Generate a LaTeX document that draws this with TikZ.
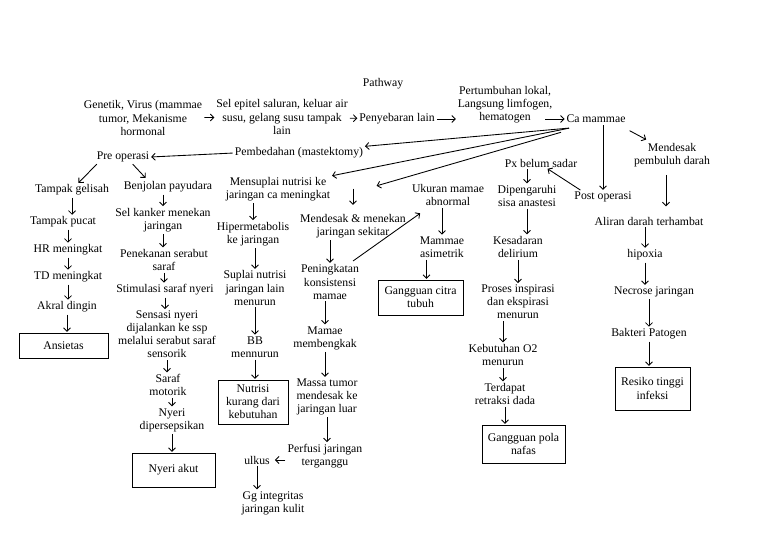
\documentclass[tikz,border=0pt]{standalone}
\usepackage{fontspec}
\setmainfont{Liberation Serif}
\usetikzlibrary{calc,arrows.meta}

\tikzset{
  txt/.style={inner sep=0.75pt, align=center, font=\fontsize{8.8}{9.8}\selectfont},
  boxnode/.style={txt, draw, line width=0.7pt},
  arr/.style={-{Straight Barb[length=2.6pt,width=5.2pt]}, line width=0.65pt, shorten >=0.5pt, shorten <=0.75pt}
}

\begin{document}
\begin{tikzpicture}[x=0.75pt,y=0.75pt,yscale=-1,xscale=1]
\useasboundingbox (0,0) rectangle (768,543);

% Text Node
\draw (383,84) node (title) [txt] {Pathway};

% top row
\draw (143,118) node (gen) [txt] {Genetik, Virus (mammae\\tumor, Mekanisme\\hormonal};
\draw (282,117) node (sel) [txt] {Sel epitel saluran, keluar air\\susu, gelang susu tampak\\lain};
\draw (397,119) node (peny) [txt] {Penyebaran lain};
\draw (505,105) node (pert) [txt] {Pertumbuhan lokal,\\Langsung limfogen,\\hematogen};
\draw (596,119) node (ca) [txt] {Ca mammae};
\coordinate (cafoot) at (570,128);
\coordinate (cafoot2) at (562,132);

% Text Node
\draw (299,153) node (pemb) [txt] {Pembedahan (mastektomy)};
\draw (123,157) node (pre) [txt] {Pre operasi};
\draw (672,155) node (pembuluh) [txt] {Mendesak\\pembuluh darah};
\draw (603,197) node (post) [txt] {Post operasi};
\draw (541,163) node (px) [txt] {Px belum sadar};

% pre operasi, left column
\draw (72,190) node (gel) [txt] {Tampak gelisah};
\draw (63,222) node (puc) [txt] {Tampak pucat};
\draw (68,250) node (hr) [txt] {HR meningkat};
\draw (68,277) node (td) [txt] {TD meningkat};
\draw (67,307) node (akral) [txt] {Akral dingin};
\draw (63.5,345.5) node (ansietas) [boxnode, minimum width=66.75pt, minimum height=18.75pt] {Ansietas};

% pre operasi, nyeri column
\draw (168,187) node (benj) [txt] {Benjolan payudara};
\draw (163,220) node (kanker) [txt] {Sel kanker menekan\\jaringan};
\draw (164,260) node (tekan) [txt] {Penekanan serabut\\saraf};
\draw (165,290) node (stim) [txt] {Stimulasi saraf nyeri};
\draw (167,334.5) node (sens) [txt] {Sensasi nyeri\\dijalankan ke ssp\\melalui serabut saraf\\sensorik};
\draw (168,385) node (motor) [txt] {Saraf\\motorik};
\draw (172,420) node (dipers) [txt] {Nyeri\\dipersepsikan};
\draw (173.5,470) node (akut) [boxnode, minimum width=62.25pt, minimum height=25.5pt] {Nyeri akut};

% nutrisi column
\draw (278,189) node (mens) [txt] {Mensuplai nutrisi ke\\jaringan ca meningkat};
\draw (253,234) node (hiper) [txt] {Hipermetabolis\\ke jaringan};
\draw (255,288) node (suplai) [txt] {Suplai nutrisi\\jaringan lain\\menurun};
\draw (255,347) node (bb) [txt] {BB\\mennurun};
\draw (253,402) node (nutrisi) [boxnode, minimum width=52.5pt, minimum height=33pt] {Nutrisi\\kurang dari\\kebutuhan};

% mendesak column
\coordinate (desakin) at (376,186);
\draw (353,226) node (desak) [txt] {Mendesak \& menekan\\jaringan sekitar};
\draw (330,282) node (ening) [txt] {Peningkatan\\konsistensi\\mamae};
\draw (325,338) node (bengkak) [txt] {Mamae\\membengkak};
\draw (327,397) node (massa) [txt] {Massa tumor\\mendesak ke\\jaringan luar};
\draw (325,456) node (perfusi) [txt] {Perfusi jaringan\\terganggu};
\draw (257,460) node (ulkus) [txt] {ulkus};
\draw (273,503) node (gg) [txt] {Gg integritas\\jaringan kulit};

% citra tubuh column
\draw (448,195) node (ukuran) [txt] {Ukuran mamae\\abnormal};
\draw (442,247) node (asim) [txt] {Mammae\\asimetrik};
\draw (420.5,297.5) node (citra) [boxnode, minimum width=63.75pt, minimum height=26.25pt] {Gangguan citra\\tubuh};

% pola nafas column
\draw (527,196) node (dipeng) [txt] {Dipengaruhi\\sisa anastesi};
\draw (518,247) node (kesad) [txt] {Kesadaran\\delirium};
\draw (518,302) node (proses) [txt] {Proses inspirasi\\dan ekspirasi\\menurun};
\draw (503,355) node (otwo) [txt] {Kebutuhan O2\\menurun};
\draw (505,394) node (retraksi) [txt] {Terdapat\\retraksi dada};
\draw (523.5,444) node (pola) [boxnode, minimum width=62.25pt, minimum height=28.5pt] {Gangguan pola\\nafas};

% infeksi column
\draw (649,221) node (aliran) [txt] {Aliran darah terhambat};
\draw (645,255) node (hipoxia) [txt] {hipoxia};
\draw (654,292) node (necrose) [txt] {Necrose jaringan};
\draw (649,334) node (bakteri) [txt] {Bakteri Patogen};
\draw (652.5,388.5) node (infeksi) [boxnode, minimum width=56.25pt, minimum height=32.25pt] {Resiko tinggi\\infeksi};

%Straight Lines: top row
\draw [arr] (gen) -- (sel);
\draw [arr] (sel) -- (peny);
\draw [arr] (peny) -- (peny -| pert.west);
\draw [arr] ($(ca.west)+(-21,0)$) -- (ca.west);

%Straight Lines: from Ca mammae
\draw [arr] (cafoot) -- (pemb.north east);
\draw [arr] (cafoot) -- (mens.north east);
\draw [arr] (cafoot2) -- (desakin);
\draw [arr] (post |- ca.south) -- (post);
\draw [arr] ($(ca.south east)+(2,6)$) -- ($(pembuluh.north west)+(14,-2)$);
\draw [arr] ($(post.north west)+(8,0)$) -- ($(px.south)+(6,0)$);
\draw [arr, shorten <=5pt, shorten >=7pt] ($(pembuluh.south)+(-6,0)$) -- ($(pembuluh.south |- aliran.north)+(-6,0)$);

%Straight Lines: pre operasi
\draw [arr] (pemb.west) -- (pre.east);
\draw [arr] ($(pre.south west)+(2,0)$) -- ($(gel.north)+(6,0)$);
\draw [arr] ($(pre.south)+(9,0)$) -- ($(benj.north)+(-22,-2)$);
\draw [arr] (gel) -- (gel |- puc.north);
\draw [arr] (hr |- puc.south) -- (hr);
\draw [arr] (hr) -- (td);
\draw [arr] (td) -- (td |- akral.north);
\draw [arr] (akral) -- (akral |- ansietas.north);
\draw [arr] (kanker |- benj.south) -- (kanker);
\draw [arr] (kanker) -- (kanker |- tekan.north);
\draw [arr] (tekan) -- (tekan |- stim.north);
\draw [arr] (stim) -- (stim |- sens.north);
\draw [arr] (sens) -- (sens |- motor.north);
\draw [arr] (dipers |- motor.south) -- (dipers);
\draw [arr] (dipers) -- (dipers |- akut.north);

%Straight Lines: nutrisi
\draw [arr] (hiper |- mens.south) -- (hiper);
\draw [arr] (suplai |- hiper.south) -- (suplai);
\draw [arr] (suplai) -- (bb);
\draw [arr] (bb) -- (bb |- nutrisi.north);

%Straight Lines: mendesak
\draw [arr, shorten <=2pt, shorten >=6pt] (desak.north |- desakin) -- (desak.north);
\draw [arr] (ening |- desak.south) -- (ening);
\draw [arr] (bengkak |- ening.south) -- (bengkak);
\draw [arr] (bengkak) -- (bengkak |- massa.north);
\draw [arr] (massa) -- (massa |- perfusi.north);
\draw [arr, shorten >=3pt] (perfusi.west |- ulkus) -- (ulkus.east);
\draw [arr] (ulkus) -- (ulkus |- gg.north);
\draw [arr] ($(ening.north east)+(-8,-2)$) -- ($(ukuran.south west)+(10,6)$);

%Straight Lines: citra tubuh
\draw [arr] (asim |- ukuran.south) -- (asim);
\draw [arr] ($(citra.north |- asim.south)+(6,0)$) -- ($(citra.north)+(6,0)$);

%Straight Lines: pola nafas
\draw [arr] (dipeng |- px.south) -- (dipeng);
\draw [arr] (dipeng) -- (dipeng |- kesad.north);
\draw [arr] (kesad) -- (kesad |- proses.north);
\draw [arr] (otwo |- proses.south) -- (otwo);
\draw [arr] (otwo) -- (otwo |- retraksi.north);
\draw [arr] (retraksi) -- (retraksi |- pola.north);

%Straight Lines: infeksi
\draw [arr] (hipoxia |- aliran.south) -- (hipoxia);
\draw [arr] (hipoxia) -- (hipoxia |- necrose.north);
\draw [arr] (bakteri |- necrose.south) -- (bakteri);
\draw [arr] (bakteri) -- (bakteri |- infeksi.north);

\end{tikzpicture}
\end{document}
